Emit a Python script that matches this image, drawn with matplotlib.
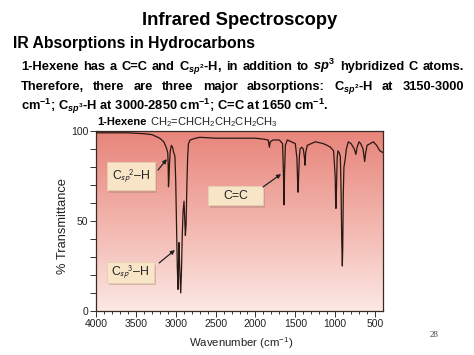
import numpy as np
import matplotlib
matplotlib.use("Agg")
import matplotlib.pyplot as plt
from matplotlib.patches import Rectangle
from matplotlib.colors import LinearSegmentedColormap

plt.rcParams["font.family"] = ["Liberation Sans", "DejaVu Sans"]
plt.rcParams["mathtext.fontset"] = "custom"
plt.rcParams["mathtext.rm"] = "Liberation Sans:bold"
plt.rcParams["mathtext.it"] = "Liberation Sans:italic:bold"
plt.rcParams["mathtext.bf"] = "Liberation Sans:bold"

W, H = 474, 355

# spectrum of 1-hexene
wavenumber = [4000, 3800, 3600, 3400, 3300, 3250, 3200, 3150, 3120, 3100, 3095,
              3091, 3086, 3078, 3068, 3055, 3040, 3025, 3010, 3000, 2990, 2980,
              2971, 2965, 2959, 2950, 2937, 2928, 2918, 2908, 2896, 2888, 2879,
              2870, 2860, 2850, 2840, 2820, 2750, 2700, 2500, 2300, 2100, 2000,
              1900, 1840, 1825, 1815, 1780, 1700, 1660, 1648, 1642, 1636, 1625,
              1600, 1550, 1500, 1480, 1470, 1465, 1458, 1450, 1440, 1420, 1400,
              1385, 1378, 1370, 1350, 1300, 1250, 1200, 1150, 1100, 1060, 1020,
              1000, 994, 990, 985, 975, 965, 950, 935, 925, 918, 910, 905, 898,
              890, 875, 860, 835, 800, 760, 740, 725, 700, 680, 650, 630, 620,
              600, 560, 520, 480, 440, 400]
transmittance = [99, 99, 99, 98.5, 98, 97, 96, 94, 91, 88, 82,
                 69, 72, 82, 89, 92, 91, 88, 86, 72, 48, 24,
                 12, 26, 38, 24, 10, 22, 42, 55, 61, 52, 42,
                 48, 70, 86, 93, 95, 96, 96.5, 96, 96, 96, 96,
                 95.5, 95, 91, 94, 95, 95, 93, 75, 59, 75, 92,
                 95, 94, 93, 85, 70, 66, 75, 85, 90, 91, 90,
                 85, 81, 88, 92, 93, 94, 93.5, 93, 92, 91, 89,
                 75, 60, 57, 65, 85, 89, 88, 86, 65, 40, 25, 35, 65,
                 80, 84, 90, 94, 93, 90, 87, 91, 94, 93, 90, 83, 87,
                 92, 93, 94, 92, 89, 88]

para_line1 = ["1-Hexene", "has", "a", "C=C", "and", "C$_{sp^2}$-H,", "in", "addition",
              "to", "$sp^3$", "hybridized", "C", "atoms."]
para_line2 = ["Therefore,", "there", "are", "three", "major", "absorptions:",
              "C$_{sp^2}$-H", "at", "3150-3000"]
para_line3 = "cm$^{-1}$; C$_{sp^3}$-H at 3000-2850 cm$^{-1}$; C=C at 1650 cm$^{-1}$."

fig = plt.figure(figsize=(W / 100, H / 100), dpi=100)


def fx(x):
    return x / W


def fy(y):
    return 1 - y / H


fig.text(fx(240), fy(25), "Infrared Spectroscopy", fontsize=13.2, fontweight="bold",
         ha="center", va="baseline")
fig.text(fx(13), fy(48), "IR Absorptions in Hydrocarbons", fontsize=11.3,
         fontweight="bold", ha="left", va="baseline")

renderer = fig.canvas.get_renderer()


def justify(words, x0, x1, y, size):
    texts = [fig.text(0, fy(y), w, fontsize=size, fontweight="bold", ha="left",
                      va="baseline") for w in words]
    widths = [t.get_window_extent(renderer).width for t in texts]
    gap = ((x1 - x0) - sum(widths)) / (len(words) - 1)
    x = x0
    for t, w in zip(texts, widths):
        t.set_position((fx(x), fy(y)))
        x += w + gap


justify(para_line1, 21, 464, 70, 9.3)
justify(para_line2, 21, 464, 90, 9.3)
fig.text(fx(21), fy(109.5), para_line3, fontsize=9.3, fontweight="bold", ha="left",
         va="baseline")

fig.text(fx(97), fy(125), "1-Hexene", fontsize=8, fontweight="bold", ha="left",
         va="baseline")
fig.text(fx(150), fy(125),
         r"CH$\mathregular{_2}$=CHCH$\mathregular{_2}$CH$\mathregular{_2}$"
         r"CH$\mathregular{_2}$CH$\mathregular{_3}$",
         fontsize=8, ha="left", va="baseline", color="#222222")

fig.text(fx(430), fy(337), "28", fontsize=6.5, family="Liberation Serif",
         ha="left", va="baseline", color="#444444")

# spectrum axes
left, right, top, bottom = 96, 383, 131, 311
ax = fig.add_axes([fx(left), fy(bottom), (right - left) / W, (bottom - top) / H])

cmap = LinearSegmentedColormap.from_list("bg", ["#fce8e4", "#f2b4ac", "#e8857b"])
grad = np.linspace(0, 1, 256).reshape(-1, 1)
ax.imshow(grad, extent=[0, 1, 0, 1], transform=ax.transAxes, aspect="auto",
          cmap=cmap, origin="lower", zorder=0)

ax.plot(wavenumber, transmittance, color="#2a1812", lw=0.9, zorder=3)
ax.set_xlim(4000, 400)
ax.set_ylim(0, 100)

ax.set_xticks(np.arange(4000, 400, -500))
ax.set_xticks(np.arange(4000, 400, -100), minor=True)
ax.set_yticks([0, 50, 100])
ax.set_yticks(np.arange(0, 101, 10), minor=True)
ax.tick_params(axis="both", which="both", direction="out", colors="#333333",
               labelsize=7.5, labelcolor="#222222", width=0.7)
ax.tick_params(axis="x", which="major", length=4, pad=1.5)
ax.tick_params(axis="x", which="minor", length=2.5)
ax.tick_params(axis="y", which="both", length=4, pad=1.5)
for s in ax.spines.values():
    s.set_color("#3a2a26")
    s.set_linewidth(0.9)

# label boxes (axes fraction)
boxes = [
    ((0.038, 0.672), (0.168, 0.156), "C$_{sp}$$^2$\u2013H", (0.216, 0.783), (0.247, 0.844)),
    ((0.390, 0.589), (0.192, 0.105), "C=C", (0.582, 0.689), (0.645, 0.761)),
    ((0.038, 0.156), (0.164, 0.116), "C$_{sp}$$^3$\u2013H", (0.220, 0.267), (0.275, 0.339)),
]
for (bx, by), (bw, bh), label, start, tip in boxes:
    ax.add_patch(Rectangle((bx + 0.008, by - 0.014), bw, bh, transform=ax.transAxes,
                           facecolor="#b08a80", alpha=0.45, edgecolor="none", zorder=4))
    ax.add_patch(Rectangle((bx, by), bw, bh, transform=ax.transAxes,
                           facecolor="#f8e5c8", edgecolor="#e6cfae", lw=0.6, zorder=5))
    ax.text(bx + bw / 2, by + bh / 2, label, transform=ax.transAxes, fontsize=8.8,
            ha="center", va="center", color="#222222", math_fontfamily="stixsans",
            zorder=6)
    ax.annotate("", xy=tip, xytext=start, xycoords="axes fraction",
                textcoords="axes fraction",
                arrowprops=dict(arrowstyle="-|>", color="#222222", lw=0.9,
                                mutation_scale=6, shrinkA=0, shrinkB=0), zorder=6)

fig.text(fx(63), fy(226), "% Transmittance", rotation=90, fontsize=9.3,
         ha="center", va="center", color="#222222")
fig.text(fx(241), fy(343), r"Wavenumber (cm$\mathregular{^{-1}}$)", fontsize=8.2,
         ha="center", va="center", color="#222222")

fig.savefig("out.png", dpi=100)
